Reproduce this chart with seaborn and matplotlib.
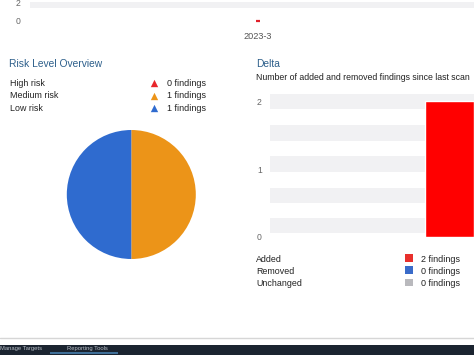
import matplotlib
matplotlib.use("Agg")
import matplotlib.pyplot as plt
from matplotlib.patches import Rectangle
import seaborn as sns
import pandas as pd

# ---- data ----
top_periods = ["2023-3"]
top_values = [0]
top_yticks = [0, 2]

risk_levels = ["High risk", "Medium risk", "Low risk"]
risk_counts = [0, 1, 1]
risk_colors = ["#e8262b", "#ec9418", "#2f6bcf"]

delta_categories = ["Added", "Removed", "Unchanged"]
delta_counts = [2, 0, 0]
delta_colors = ["#e8302c", "#3a6bc9", "#b9b9bd"]
delta_bar_period = ["2023-3"]
delta_bar_values = [2]
delta_yticks = [0, 1, 2]

nav_items = ["Manage Targets", "Reporting Tools"]

sns.set_theme(style="white")
plt.rcParams["font.family"] = ["Liberation Sans", "DejaVu Sans"]

W, H = 474, 355
fig = plt.figure(figsize=(W / 100, H / 100), dpi=100)
fig.patch.set_facecolor("white")


def px_axes(x0, y0, x1, y1, **kw):
    return fig.add_axes([x0 / W, 1 - y1 / H, (x1 - x0) / W, (y1 - y0) / H], **kw)


def clean(ax):
    for s in ax.spines.values():
        s.set_visible(False)


# ---- top trend chart (partially visible) ----
ax_top = px_axes(30, 0, 474, 21)
ax_top.axhspan(1.44, 2.12, xmin=0, xmax=1, color="#f1f1f3", lw=0, zorder=0)
df_top = pd.DataFrame({"period": top_periods, "value": top_values})
sns.scatterplot(data=df_top, x="period", y="value", ax=ax_top, marker="_", s=10,
                linewidth=1.6, color="#e0202a", zorder=3, clip_on=False)
ax_top.set_xlim(-0.5135, 0.4865)
ax_top.set_ylim(0, 2.333)
ax_top.set_yticks(top_yticks)
ax_top.set_yticklabels([str(v) for v in top_yticks], fontsize=6.2, color="#666666")
ax_top.set_xticks([0])
ax_top.set_xticklabels(top_periods, fontsize=6.6, color="#555555")
ax_top.tick_params(axis="y", length=0, pad=7)
ax_top.tick_params(axis="x", length=0, pad=8)
ax_top.set_xlabel("")
ax_top.set_ylabel("")
ax_top.set_facecolor("none")
clean(ax_top)

# ---- pie chart ----
cx, cy, r = 131.3, 194.5, 64.5
ax_pie = px_axes(cx - r, cy - r, cx + r, cy + r)
vals = [v for v in risk_counts if v > 0]
cols = [c for v, c in zip(risk_counts, risk_colors) if v > 0]
ax_pie.pie(vals, colors=cols, startangle=90, counterclock=False, radius=1,
           wedgeprops=dict(linewidth=0))
ax_pie.set_xlim(-1, 1)
ax_pie.set_ylim(-1, 1)
ax_pie.set_aspect("equal")
ax_pie.axis("off")

# ---- delta bar chart ----
ax_d = px_axes(270, 94, 474, 237)
for lo, hi in [(0.055, 0.277), (0.50, 0.73), (0.96, 1.19), (1.42, 1.65), (1.89, 2.12)]:
    ax_d.axhspan(lo, hi, color="#f1f1f3", lw=0, zorder=0)
df_d = pd.DataFrame({"period": delta_bar_period, "value": delta_bar_values})
sns.barplot(data=df_d, x="period", y="value", ax=ax_d, color="#ff0000",
            width=0.6, saturation=1, zorder=2)
ax_d.set_xlim(-2.18, 0.3)
ax_d.set_ylim(0, 2.11)
ax_d.set_yticks(delta_yticks)
ax_d.set_yticklabels([str(v) for v in delta_yticks], fontsize=6.2, color="#666666")
ax_d.tick_params(axis="y", length=0, pad=6)
ax_d.set_xticks([])
ax_d.set_xlabel("")
ax_d.set_ylabel("")
ax_d.set_facecolor("none")
clean(ax_d)

# ---- overlay for text and legend markers ----
ov = px_axes(0, 0, W, H)
ov.set_xlim(0, W)
ov.set_ylim(H, 0)
ov.axis("off")
ov.set_zorder(10)
ov.patch.set_alpha(0)

title_color = "#2d5f8b"
ov.text(9, 64, "Risk Level Overview", fontsize=7.4, color=title_color, va="center", ha="left")
ov.text(256, 64, "Delta", fontsize=7.4, color=title_color, va="center", ha="left")
ov.text(256, 78, "Number of added and removed findings since last scan", fontsize=6.3,
        color="#222222", va="center", ha="left")

for i, (lab, cnt, col) in enumerate(zip(risk_levels, risk_counts, risk_colors)):
    y = 83.3 + i * 12.4
    ov.text(10, y, lab, fontsize=6.4, color="#222222", va="center", ha="left")
    ov.scatter([154.5], [y], marker="^", s=28, color=col, linewidths=0)
    ov.text(167.5, y, f"{cnt} findings", fontsize=6.5, color="#222222", va="center", ha="left")

for i, (lab, cnt, col) in enumerate(zip(delta_categories, delta_counts, delta_colors)):
    y = 259 + i * 12.2
    ov.text(256, y, lab, fontsize=6.4, color="#222222", va="center", ha="left")
    ov.add_patch(Rectangle((405.5, y - 4.8), 7.6, 7.6, color=col, lw=0))
    ov.text(421.5, y, f"{cnt} findings", fontsize=6.5, color="#222222", va="center", ha="left")

# bottom navigation strip
ov.plot([0, W], [337.5, 337.5], color="#d6d6d6", lw=1)
ov.add_patch(Rectangle((0, 345), W, 10, color="#1b2430", lw=0, clip_on=False))
ov.add_patch(Rectangle((50, 352), 68, 2, color="#3f6f98", lw=0))
ov.text(0.5, 348.5, nav_items[0], fontsize=4.2, color="#b9c0c8", va="center", ha="left")
ov.text(67, 348.5, nav_items[1], fontsize=4.2, color="#b9c0c8", va="center", ha="left")

fig.savefig("out.png", dpi=100)
